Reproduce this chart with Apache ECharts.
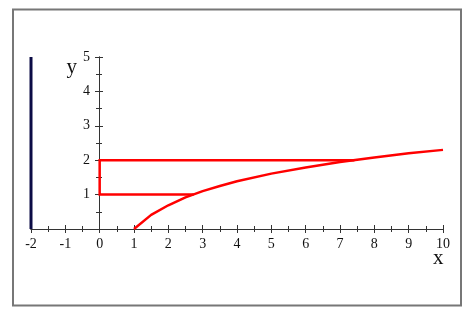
<!DOCTYPE html>
<html><head><meta charset="utf-8">
<script src="https://cdn.jsdelivr.net/npm/echarts@6/dist/echarts.min.js"></script>
<style>html,body{margin:0;padding:0;background:#fff}#c{width:466px;height:312px}</style>
</head><body><div id="c"></div>
<script>
// Curve points
const curveX = [1, 1.5, 2, 2.5, 3, 3.5, 4, 5, 6, 7, 8, 9, 10];
const curveY = [0, 0.41, 0.69, 0.92, 1.10, 1.25, 1.39, 1.61, 1.79, 1.95, 2.08, 2.20, 2.30];
// Red rectangle outline (open on the right)
const rectX = [2.74, 0, 0, 7.42];
const rectY = [1, 1, 2, 2];
// Dark vertical bar at x = -2
const barX = [-2, -2];
const barY = [0, 5];
const xRange = [-2, 10];
const yRange = [0, 5];

const zip = (a, b) => a.map((v, i) => [v, b[i]]);
const font = 'Liberation Serif';
const axCol = '#333';

function xAx(outside) {
  return {
    type: 'value', min: xRange[0], max: xRange[1], interval: 1, position: 'bottom',
    axisLine: { show: true, onZero: false, lineStyle: { color: axCol, width: 1 } },
    axisTick: { show: true, inside: !outside, length: 4, lineStyle: { color: axCol } },
    minorTick: { show: true, splitNumber: 2, length: 3, lineStyle: { color: axCol } },
    splitLine: { show: false },
    axisLabel: { show: outside, margin: 8, color: '#111', fontFamily: font, fontSize: 14 },
    name: outside ? 'x' : '', nameLocation: 'end', nameGap: -10, nameMoveOverlap: false,
    nameTextStyle: { fontFamily: font, fontSize: 21, color: '#111', verticalAlign: 'top', padding: [19, 0, 0, 0] }
  };
}
function yAx(outside) {
  return {
    type: 'value', min: yRange[0], max: yRange[1], interval: 1, position: 'left', offset: -68,
    axisLine: { show: true, onZero: false, lineStyle: { color: axCol, width: 1 } },
    axisTick: { show: true, inside: !outside, length: 4, lineStyle: { color: axCol } },
    minorTick: { show: true, splitNumber: 2, length: 3, lineStyle: { color: axCol } },
    splitLine: { show: false },
    axisLabel: { show: outside, showMinLabel: false, margin: 9, color: '#111', fontFamily: font, fontSize: 14 },
    name: outside ? 'y' : '', nameLocation: 'end', nameGap: 0, nameMoveOverlap: false,
    nameTextStyle: { fontFamily: font, fontSize: 21, color: '#111', align: 'right', verticalAlign: 'top', padding: [0, 22, 0, 0] }
  };
}

const chart = echarts.init(document.getElementById('c'), null, { renderer: 'canvas' });
chart.setOption({
  animation: false,
  backgroundColor: '#fff',
  grid: { left: 31, right: 23, top: 57, bottom: 83 },
  graphic: [{
    type: 'rect', shape: { x: 13, y: 9.5, width: 448, height: 296 },
    style: { fill: 'none', stroke: '#777', lineWidth: 2 }, z: -1
  }],
  xAxis: [xAx(true), xAx(false)],
  yAxis: [yAx(true), yAx(false)],
  series: [
    { type: 'line', data: zip(barX, barY), showSymbol: false, clip: false,
      lineStyle: { color: '#0b0b45', width: 3 }, z: 3 },
    { type: 'line', data: zip(rectX, rectY), showSymbol: false, clip: false,
      lineStyle: { color: '#ff0000', width: 2.5, join: 'miter' }, z: 4 },
    { type: 'line', data: zip(curveX, curveY), showSymbol: false, clip: false,
      lineStyle: { color: '#ff0000', width: 2.5 }, z: 4 }
  ]
});
</script></body></html>
